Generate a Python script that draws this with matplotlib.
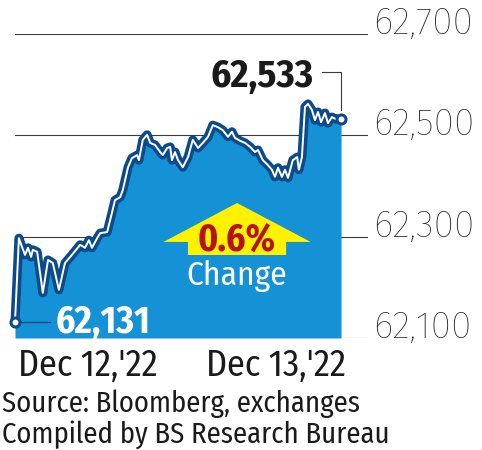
import numpy as np
import matplotlib.pyplot as plt
from matplotlib.patches import Polygon

# house style
COND = ['Fira Sans Condensed', 'Liberation Sans Narrow', 'DejaVu Sans']
REG = ['Fira Sans', 'Liberation Sans', 'DejaVu Sans']
plt.rcParams['font.family'] = COND

# minutes since Dec 12 open (two sessions of 375 min)
minutes = [0, 9, 16, 23, 30, 37, 41, 51, 64, 76, 87, 101, 115, 131, 150, 161,
           170, 177, 189, 196, 212, 223, 230, 242, 248, 260, 269, 281, 285,
           294, 304, 311, 322, 334, 340, 350, 357, 361, 368, 375, 386, 398,
           409, 421, 432, 444, 455, 467, 478, 490, 499, 506, 518, 529, 541,
           552, 559, 570, 582, 591, 598, 605, 614, 621, 628, 639, 649, 653,
           660, 667, 674, 683, 690, 697, 704, 713, 720, 729, 738, 750]
sensex = [62131, 62297, 62280, 62264, 62278, 62260, 62274, 62270, 62189,
          62254, 62248, 62195, 62248, 62264, 62284, 62278, 62293, 62278,
          62297, 62307, 62309, 62347, 62372, 62378, 62392, 62437, 62455,
          62461, 62451, 62491, 62501, 62485, 62481, 62467, 62461, 62475,
          62477, 62451, 62467, 62451, 62437, 62457, 62491, 62475, 62485,
          62497, 62520, 62516, 62510, 62497, 62507, 62495, 62489, 62485,
          62477, 62467, 62471, 62451, 62441, 62432, 62418, 62436, 62418,
          62432, 62416, 62451, 62457, 62432, 62457, 62556, 62562, 62550,
          62530, 62546, 62526, 62544, 62524, 62536, 62532, 62533]

yticks = [62100, 62300, 62500, 62700]
ytick_labels = ['62,100', '62,300', '62,500', '62,700']
xtick_pos = [168, 600]
xtick_labels = ["Dec 12,'22", "Dec 13,'22"]
change_pct = '0.6%'

fill_col = '#1591d5'
line_col = '#0d4a8a'
grid_col = '#3a3a3a'
ink = '#1a1a1a'

fig = plt.figure(figsize=(4.82, 4.5), dpi=100)
ax = fig.add_axes([0.0311, 0.2489, 0.7324, 0.6756])
ax.set_xlim(0, 812)
ax.set_ylim(62100, 62700)

for y in yticks:
    ax.axhline(y, color=grid_col, lw=0.8, zorder=1)

ax.fill_between(minutes, sensex, 62100, color=fill_col, lw=0, zorder=2)
ax.plot(minutes, sensex, color=line_col, lw=6.5, solid_joinstyle='round',
        solid_capstyle='round', zorder=3, clip_on=False)
ax.plot(minutes, sensex, color='white', lw=1.4, solid_joinstyle='round',
        zorder=4, clip_on=False)

# leader lines for first / last values
ax.plot([minutes[0], minutes[0] + 80], [sensex[0], sensex[0]], color=line_col,
        lw=1.0, zorder=3)
ax.plot([minutes[-1] - 43, minutes[-1], minutes[-1]],
        [sensex[-1] + 92, sensex[-1] + 92, sensex[-1] + 17],
        color=grid_col, lw=0.8, zorder=3)
for i in [0, -1]:
    ax.plot(minutes[i], sensex[i], 'o', ms=6.5, mfc='white', mec=line_col,
            mew=2.2, zorder=5, clip_on=False)

ax.text(minutes[-1] - 62, sensex[-1] + 62, '62,533', ha='right', va='baseline',
        fontsize=28, fontweight='bold', color=ink, zorder=6)
ax.text(minutes[0] + 93, sensex[0] - 21, '62,131', ha='left', va='baseline',
        fontsize=27, fontweight='bold', color='white', zorder=6)

# up arrow with change
cx, base, top, stem_b = 0.629, 0.316, 0.444, 0.273
hw, sw = 0.2085, 0.139
arrow = Polygon([(cx, top), (cx + hw, base), (cx + sw, base), (cx + sw, stem_b),
                 (cx - sw, stem_b), (cx - sw, base), (cx - hw, base)],
                closed=True, transform=ax.transAxes, color='#fff200', lw=0,
                zorder=5)
ax.add_patch(arrow)
ax.text(cx, 0.283, change_pct, transform=ax.transAxes, ha='center',
        va='baseline', fontsize=27, fontweight='bold', color='#b5121b', zorder=6)
ax.text(cx, 0.174, 'Change', transform=ax.transAxes, ha='center',
        va='baseline', fontsize=24, color='white', zorder=6)

ax.set_yticks(yticks)
ax.set_yticklabels(ytick_labels)
ax.tick_params(axis='y', left=False, labelleft=False, right=False,
               labelright=True, length=0, pad=3.6, labelsize=27,
               labelcolor=ink)
for lbl in ax.get_yticklabels():
    lbl.set_va('baseline')
    lbl.set_family(REG)
    lbl.set_fontweight('light')

ax.set_xticks(xtick_pos)
ax.set_xticklabels(xtick_labels)
ax.tick_params(axis='x', length=0, pad=7, labelsize=26, labelcolor=ink)

for s in ax.spines.values():
    s.set_visible(False)

fig.text(0.004, 0.0844, 'Source: Bloomberg, exchanges', fontsize=20.6,
         color=ink, va='baseline')
fig.text(0.004, 0.0156, 'Compiled by BS Research Bureau', fontsize=20.6,
         color=ink, va='baseline')

fig.savefig('out.png', dpi=100)
